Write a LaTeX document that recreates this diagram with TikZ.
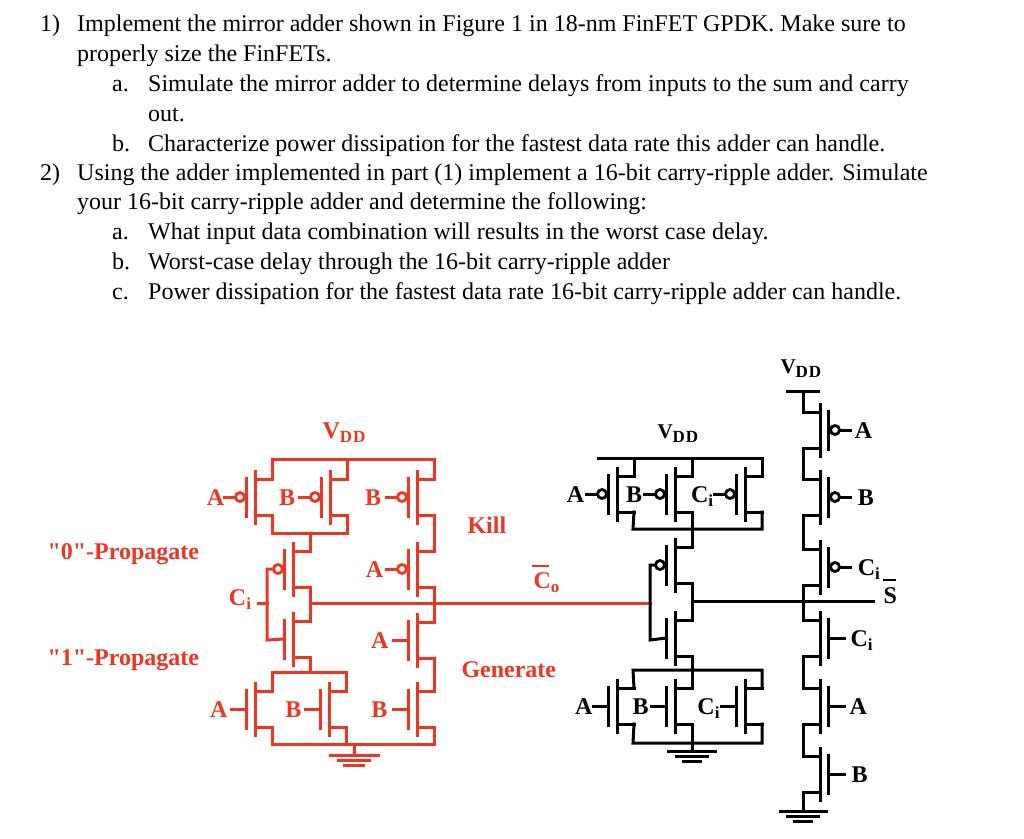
\documentclass[tikz,border=0pt]{standalone}
\usepackage{fontspec}
\setmainfont{Liberation Serif}
\usetikzlibrary{positioning}
\definecolor{adderred}{HTML}{EE3524}

\newcommand{\fet}[4]{
    \draw (#2,#3-26) -- (#2,#3+26);
    \draw (#2-8.5*#4,#3-19) -- (#2-8.5*#4,#3+19);
    \coordinate (#1-t) at (#2+17*#4,#3-18);
    \coordinate (#1-b) at (#2+17*#4,#3+18);
    \draw (#2,#3-18) -- (#1-t);
    \draw (#2,#3+18) -- (#1-b);
}
\newcommand{\nfet}[4]{\fet{#1}{#2}{#3}{#4}\coordinate (#1-o) at (#2-8.5*#4,#3);}
\newcommand{\pfet}[4]{\fet{#1}{#2}{#3}{#4}\node[bub] (#1-o) at (#2-15*#4,#3) {};}
\newcommand{\llab}[4]{
    \node[lab, inner xsep=#4pt, left=#3pt of #1-o] (#1-l) {#2};
    \draw (#1-l.east) -- (#1-o);
}
\newcommand{\rlab}[4]{
    \node[lab, inner xsep=#4pt, right=#3pt of #1-o] (#1-l) {#2};
    \draw (#1-l.west) -- (#1-o);
}
\newcommand{\gnd}[4]{
    \coordinate (#1) at (#2,#3);
    \draw (#2-#4,#3) -- (#2+#4,#3);
    \draw (#2-#4*0.66,#3+5) -- (#2+#4*0.66,#3+5);
    \draw (#2-#4*0.38,#3+10.5) -- (#2+#4*0.38,#3+10.5);
}
\newcommand{\low}[1]{\raisebox{-4pt}{\fontsize{17}{17}\selectfont #1}}
\newcommand{\vdd}{V\low{D\kern1pt D}}

\begin{document}
\begin{tikzpicture}[x=1pt, y=-1pt,
    txt/.style = {anchor=base west, inner sep=0pt, font=\fontsize{24}{26}\selectfont},
    lab/.style = {inner ysep=0pt, outer sep=0pt, text height=16pt, text depth=0pt, font=\bfseries\fontsize{24}{26}\selectfont},
    head/.style = {anchor=base west, inner sep=0pt, font=\bfseries\fontsize{24}{26}\selectfont},
    small/.style = {font=\bfseries\fontsize{21}{23}\selectfont},
    bub/.style = {draw, circle, line width=2.8pt, minimum size=9pt, inner sep=0pt},
    wire/.style = {line width=3pt, line cap=rect}]
    \useasboundingbox (0,0) rectangle (1024,838);

    \node[txt] (n1) at (40,31) {1)};
    \node[txt] (t1) at (77,31) {Implement the mirror adder shown in Figure 1 in 18-nm FinFET GPDK. Make sure to};
    \node[txt] (t2) at (77,61) {properly size the FinFETs.};
    \node[txt] (a1) at (112,91) {a.};
    \node[txt] (t3) at (148,91) {Simulate the mirror adder to determine delays from inputs to the sum and carry};
    \node[txt] (t4) at (148,121) {out.};
    \node[txt] (b1) at (112,151) {b.};
    \node[txt] (t5) at (148,151) {Characterize power dissipation for the fastest data rate this adder can handle.};
    \node[txt] (n2) at (40,180) {2)};
    \node[txt] (t6) at (77,180) {Using the adder implemented in part (1) implement a 16-bit carry-ripple adder. Simulate};
    \node[txt] (t7) at (77,209) {your 16-bit carry-ripple adder and determine the following:};
    \node[txt] (a2) at (112,239) {a.};
    \node[txt] (t8) at (148,239) {What input data combination will results in the worst case delay.};
    \node[txt] (b2) at (112,269) {b.};
    \node[txt] (t9) at (148,269) {Worst-case delay through the 16-bit carry-ripple adder};
    \node[txt] (c2) at (112,299) {c.};
    \node[txt] (t10) at (148,299) {Power dissipation for the fastest data rate 16-bit carry-ripple adder can handle.};

    % red half
    \begin{scope}[wire, color=adderred]
        \pfet{A1}{255}{497}{1}
        \pfet{B1}{330}{497}{1}
        \pfet{B2}{417}{497}{1}
        \pfet{C1}{293}{569}{1}
        \pfet{A2}{417}{569}{1}
        \nfet{C2}{293}{639}{1}
        \nfet{A3}{417}{640}{1}
        \nfet{A4}{255}{709}{1}
        \nfet{B3}{329}{709}{1}
        \nfet{B4}{417}{709}{1}
        \llab{A1}{A}{10}{0}
        \llab{B1}{B}{10}{4}
        \llab{B2}{B}{10}{5}
        \llab{A2}{A}{10}{3}
        \llab{A3}{A}{15}{5}
        \llab{A4}{A}{15}{4}
        \llab{B3}{B}{15}{4}
        \llab{B4}{B}{15}{6}
        \node[head] (vddR) at (321,438) {\vdd};
        \coordinate (rtop) at (272,459);
        \coordinate (rmid) at (272,533);
        \coordinate (rlow) at (272,672);
        \coordinate (rgnd) at (272,744);
        \draw (A1-t) -- (rtop) -| (B2-t);
        \draw (B1-t) -- (B1-t |- rtop);
        \draw (A1-b) -- (rmid) -| (B1-b);
        \draw (C1-t) -- (C1-t |- rmid);
        \draw (C1-b) -- (C2-t);
        \draw (C2-b) -- (C2-b |- rlow);
        \draw (A4-t) -- (rlow) -| (B3-t);
        \draw (A4-b) -- (rgnd) -| (B4-b);
        \draw (B3-b) -- (B3-b |- rgnd);
        \draw (B2-b) -- (A2-t);
        \draw (A2-b) -- (A3-t);
        \draw (A3-b) -- (B4-t);
        \gnd{gndR}{354}{755}{24}
        \draw (gndR |- rgnd) -- (gndR);
        \coordinate (cgate) at (267,640);
        \coordinate (cmid) at (267,603);
        \coordinate (cend) at (258,603);
        \draw (C1-o) -| (cgate) -- (C2-o);
        \draw (cend) -- (cmid);
        \node[lab, anchor=east, inner xsep=0pt] (C1-l) at (251,597) {C\low{i}};
        \coordinate (outR) at (310,603);
        \coordinate (outB) at (650,603);
        \draw (outR) -- (outB);
        \node[head] (kill) at (466,533) {Kill};
        \node[head] (gen) at (460,677) {Generate};
        \node[head] (prop0) at (46,559) {\textquotedbl0\textquotedbl-Propagate};
        \node[head] (prop1) at (46,665) {\textquotedbl1\textquotedbl-Propagate};
        \node[head] (co) at (532,588) {C\low{o}};
        \draw[line width=2pt, line cap=butt] (532,566) -- (549,566);
    \end{scope}

    % black half
    \begin{scope}[wire]
        \pfet{bA}{617}{494}{1}
        \pfet{bB}{675}{494}{1}
        \pfet{bC}{745}{494}{1}
        \pfet{bD}{675}{565}{1}
        \nfet{bE}{675}{638}{1}
        \nfet{bF}{617}{706}{1}
        \nfet{bG}{675}{706}{1}
        \nfet{bH}{745}{706}{1}
        \llab{bA}{A}{10}{2}
        \llab{bB}{B}{10}{2}
        \llab{bC}{C\low{i}}{10}{1}
        \llab{bF}{A}{15}{1}
        \llab{bG}{B}{15}{3}
        \llab{bH}{C\low{i}}{15}{2}
        \node[head, small] (vddB) at (656,438) {\vdd};
        \coordinate (btop) at (598,458);
        \coordinate (bmid) at (633,529);
        \coordinate (blow) at (633,670);
        \coordinate (bgnd) at (633,743);
        \draw (btop) -| (bC-t);
        \draw (bA-t) -- (bA-t |- btop);
        \draw (bB-t) -- (bB-t |- btop);
        \draw (bA-b) -- (bmid) -| (bC-b);
        \draw (bB-b) -- (bD-t);
        \draw (bD-b) -- (bE-t);
        \draw (bE-b) -- (bG-t);
        \draw (bF-t) -- (blow) -| (bH-t);
        \draw (bF-b) -- (bgnd) -| (bH-b);
        \gnd{gndB}{692}{751}{23.5}
        \draw (bG-b) -- (gndB);
        \coordinate (bgate) at (650,640);
        \draw (bD-o) -| (bgate) -- (bE-o);
        \coordinate (sumL) at (692,601);
        \coordinate (sumR) at (873,601);
        \draw (sumL) -- (sumR);
        % sum stack
        \pfet{rA}{820}{430}{-1}
        \pfet{rB}{820}{497}{-1}
        \pfet{rC}{820}{567}{-1}
        \nfet{rD}{820}{638}{-1}
        \nfet{rE}{820}{706}{-1}
        \nfet{rF}{820}{774}{-1}
        \rlab{rA}{A}{10}{4}
        \rlab{rB}{B}{10}{7}
        \rlab{rC}{C\low{i}}{10}{7}
        \rlab{rD}{C\low{i}}{16}{6}
        \rlab{rE}{A}{16}{5}
        \rlab{rF}{B}{16}{7}
        \node[head, small] (vddS) at (779,373) {\vdd};
        \coordinate (sL) at (787,391);
        \coordinate (sR) at (818,391);
        \draw (sL) -- (sR);
        \draw (rA-t) -- (rA-t |- sL);
        \draw (rA-b) -- (rB-t);
        \draw (rB-b) -- (rC-t);
        \draw (rC-b) -- (rD-t);
        \draw (rD-b) -- (rE-t);
        \draw (rE-b) -- (rF-t);
        \gnd{gndS}{803}{811}{23}
        \draw (rF-b) -- (gndS);
        \node[head] (sum) at (882,603) {S};
        \draw[line width=2pt, line cap=butt] (883,580) -- (896,580);
    \end{scope}
\end{tikzpicture}
\end{document}
